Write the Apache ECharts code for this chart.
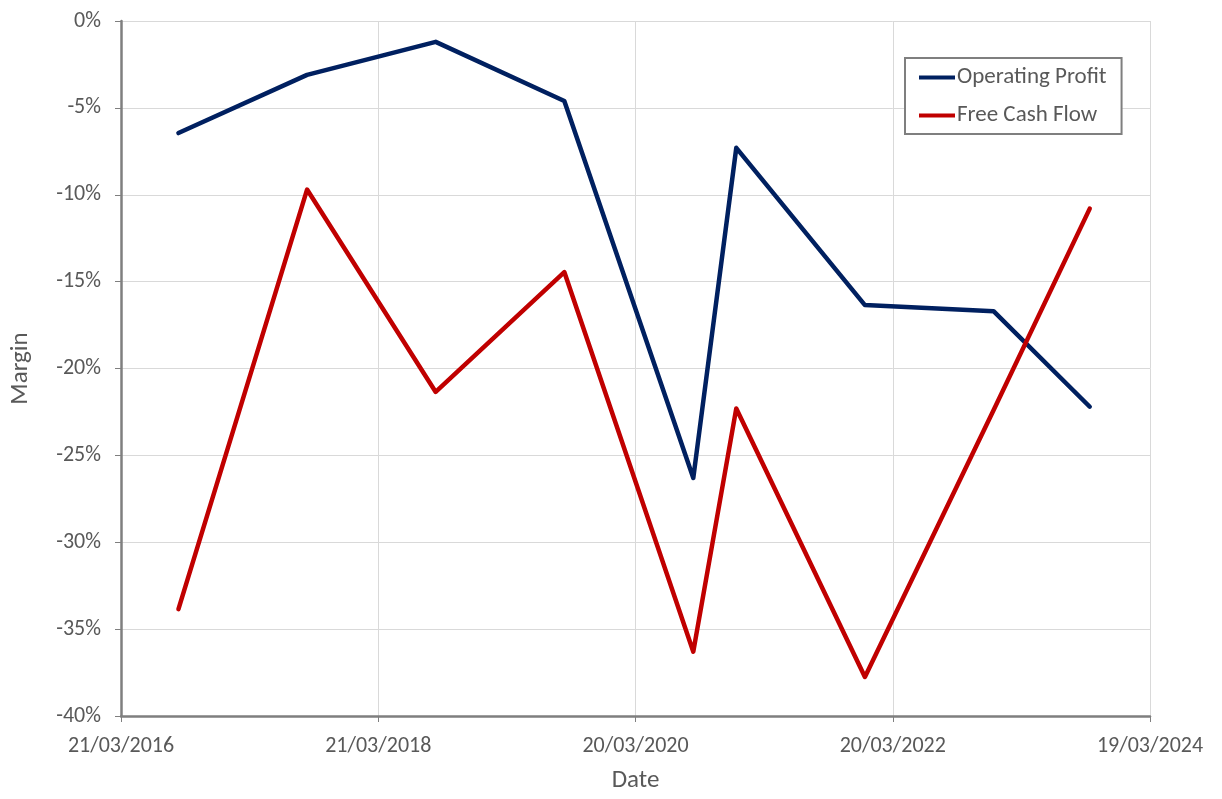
<!DOCTYPE html>
<html>
<head>
<meta charset="utf-8">
<script src="https://cdn.jsdelivr.net/npm/echarts@6/dist/echarts.min.js"></script>
<style>
  html, body { margin: 0; padding: 0; background: #fff; }
  #chart { width: 1222px; height: 799px; }
</style>
</head>
<body>
<div id="chart"></div>
<script>
// data (margin in %)
var dates = ['2016-08-31', '2017-08-31', '2018-08-31', '2019-08-31', '2020-08-31',
  '2020-12-31', '2021-12-31', '2022-12-31', '2023-09-30'];
var operatingProfit = [-6.45, -3.1, -1.2, -4.6, -26.3, -7.3, -16.35, -16.7, -22.2];
var freeCashFlow = [-33.85, -9.7, -21.35, -14.45, -36.3, -22.3, -37.75, -22.4, -10.8];

var yTicks = [-40, -35, -30, -25, -20, -15, -10, -5, 0];
var axisStart = '2016-03-21'; // first x tick, ticks every 730 days
var axisEnd = '2024-03-19';

var DAY = 86400000;
function toMs(s) {
  var p = s.split('-');
  return Date.UTC(+p[0], +p[1] - 1, +p[2]);
}
var base = toMs(axisStart);
function dayOffset(s) { return Math.round((toMs(s) - base) / DAY); }
function fmtDate(v) {
  var d = new Date(base + v * DAY);
  var dd = ('0' + d.getUTCDate()).slice(-2);
  var mm = ('0' + (d.getUTCMonth() + 1)).slice(-2);
  return dd + '/' + mm + '/' + d.getUTCFullYear();
}
function pairs(vals) {
  return dates.map(function (d, i) { return [dayOffset(d), vals[i]]; });
}

var font = "Carlito, Lato, 'Liberation Sans', sans-serif";
var grey = '#595959';
var axisGrey = '#7f7f7f';

var chart = echarts.init(document.getElementById('chart'), null, { renderer: 'canvas' });

var option = {
  animation: false,
  backgroundColor: '#fff',
  textStyle: { fontFamily: font },
  grid: { left: 121, right: 72, top: 21, bottom: 83, containLabel: false, outerBoundsMode: 'none' },
  legend: {
    orient: 'vertical',
    left: 905,
    top: 58,
    padding: [8, 15, 7, 14],
    itemGap: 15,
    itemWidth: 36,
    itemHeight: 4,
    icon: 'rect',
    borderColor: axisGrey,
    borderWidth: 2,
    borderRadius: 0,
    backgroundColor: '#fff',
    textStyle: { fontFamily: font, fontSize: 23, color: grey, padding: [0, 0, 0, -3] },
    data: ['Operating Profit', 'Free Cash Flow']
  },
  xAxis: {
    type: 'value',
    min: 0,
    max: dayOffset(axisEnd),
    interval: 730,
    name: 'Date',
    nameLocation: 'middle',
    nameGap: 52,
    nameTextStyle: { fontFamily: font, fontSize: 25, color: grey },
    axisLine: { onZero: false, lineStyle: { color: axisGrey, width: 2.5 } },
    axisTick: { show: true, length: 6, lineStyle: { color: axisGrey, width: 1 } },
    axisLabel: {
      margin: 19, fontSize: 22, color: grey, fontFamily: font,
      formatter: function (v) { return fmtDate(v); }
    },
    splitLine: { show: true, lineStyle: { color: '#d9d9d9', width: 1 } }
  },
  yAxis: {
    type: 'value',
    min: yTicks[0],
    max: yTicks[yTicks.length - 1],
    interval: 5,
    name: 'Margin',
    nameLocation: 'middle',
    nameGap: 88,
    nameTextStyle: { fontFamily: font, fontSize: 25, color: grey },
    axisLine: { show: true, lineStyle: { color: axisGrey, width: 2.5 } },
    axisTick: { show: true, length: 6, lineStyle: { color: axisGrey, width: 1 } },
    axisLabel: { margin: 20, fontSize: 22, color: grey, fontFamily: font, formatter: '{value}%' },
    splitLine: { show: true, lineStyle: { color: '#d9d9d9', width: 1 } }
  },
  series: [
    {
      name: 'Operating Profit',
      type: 'line',
      data: pairs(operatingProfit),
      showSymbol: false,
      symbol: 'none',
      color: '#002060',
      lineStyle: { width: 4.5, color: '#002060', cap: 'round', join: 'round' }
    },
    {
      name: 'Free Cash Flow',
      type: 'line',
      data: pairs(freeCashFlow),
      showSymbol: false,
      symbol: 'none',
      color: '#c00000',
      lineStyle: { width: 4.5, color: '#c00000', cap: 'round', join: 'round' }
    }
  ]
};

chart.setOption(option);
</script>
</body>
</html>
